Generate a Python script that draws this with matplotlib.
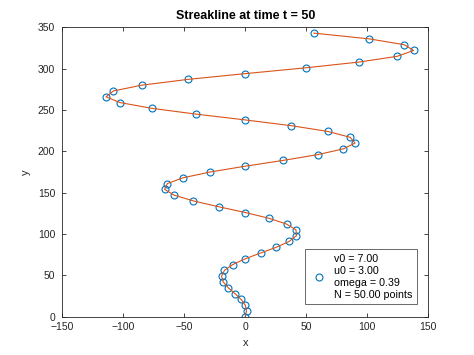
import matplotlib
matplotlib.use("Agg")
import matplotlib.pyplot as plt

plt.rcParams['font.family'] = ['Liberation Sans', 'DejaVu Sans']

x_vals = [0.0, 1.1, 0.0, -3.4, -8.5, -13.9, -18.0, -19.4, -17.0, -10.3,
          0.0, 12.6, 25.5, 36.0, 42.0, 41.6, 33.9, 19.5, 0.0, -21.8,
          -42.4, -58.2, -66.0, -63.8, -50.9, -28.7, 0.0, 31.0, 59.4, 80.4,
          90.0, 85.9, 67.9, 37.9, 0.0, -40.2, -76.4, -102.6, -114.0, -108.1,
          -84.9, -47.1, 0.0, 49.4, 93.3, 124.7, 138.0, 130.3, 101.8, 56.3]
y_vals = [0, 7, 14, 21, 28, 35, 42, 49, 56, 63,
          70, 77, 84, 91, 98, 105, 112, 119, 126, 133,
          140, 147, 154, 161, 168, 175, 182, 189, 196, 203,
          210, 217, 224, 231, 238, 245, 252, 259, 266, 273,
          280, 287, 294, 301, 308, 315, 322, 329, 336, 343]
legend_label = "v0 = 7.00\nu0 = 3.00\nomega = 0.39\nN = 50.00 points"
title = "Streakline at time t = 50"
xticks = [-150, -100, -50, 0, 50, 100, 150]
yticks = [0, 50, 100, 150, 200, 250, 300, 350]

fig = plt.figure(figsize=(4.74, 3.55), dpi=100)
ax = fig.add_axes([0.131, 0.108, 0.7726, 0.815])

ax.plot(x_vals, y_vals, 'o', markersize=5, markerfacecolor='none',
        markeredgecolor='#0072BD', markeredgewidth=0.8, label=legend_label, zorder=2)
ax.plot(x_vals, y_vals, '-', color='#D95319', linewidth=0.8, zorder=3)

ax.set_xlim(-150, 150)
ax.set_ylim(0, 350)
ax.set_xticks(xticks)
ax.set_yticks(yticks)
ax.tick_params(direction='in', top=True, right=True, length=3, width=0.6,
               labelsize=7.5, colors='#262626')
ax.tick_params(axis='x', pad=4)
ax.tick_params(axis='y', pad=5)
for s in ax.spines.values():
    s.set_color('#262626')
    s.set_linewidth(0.6)
ax.set_xlabel('x', fontsize=8, color='#262626', labelpad=4)
ax.set_ylabel('y', fontsize=8, color='#262626', labelpad=5)
ax.set_title(title, fontsize=9, fontweight='bold', color='black', pad=6)

leg = ax.legend(loc='lower right', bbox_to_anchor=(0.969, 0.044), borderaxespad=0,
                fontsize=7.7, frameon=True, fancybox=False, edgecolor='#262626',
                handlelength=1.8, handletextpad=0.5, borderpad=0.4,
                labelspacing=0.2)
leg.get_frame().set_linewidth(0.6)
for t in leg.get_texts():
    t.set_linespacing(1.25)

fig.savefig('out.png', dpi=100)
